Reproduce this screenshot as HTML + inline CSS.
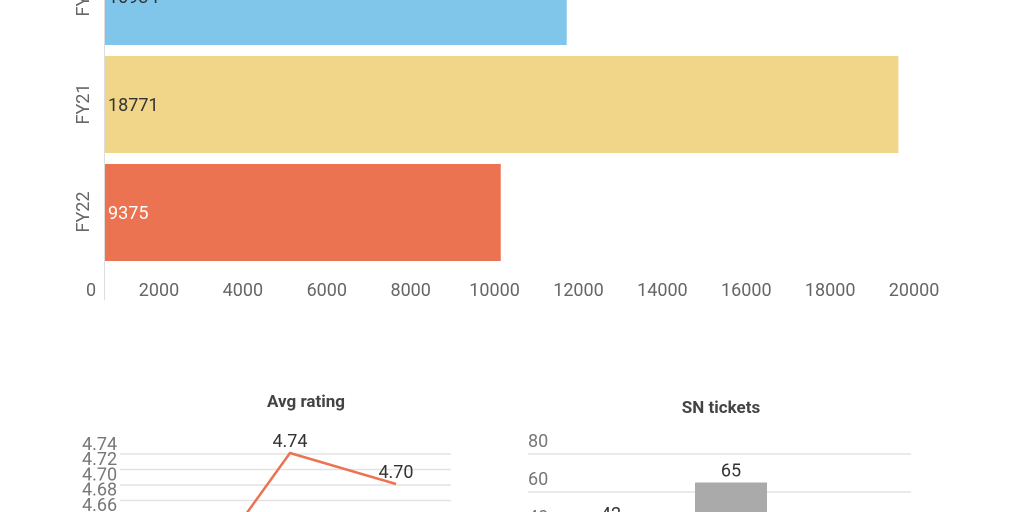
<!DOCTYPE html>
<html><head><meta charset="utf-8">
<style>
html,body{margin:0;padding:0;background:#fff;width:1024px;height:512px;overflow:hidden;}
svg{display:block;overflow:hidden;font-family:"Roboto","Liberation Sans",sans-serif;}
</style></head>
<body>
<svg id="svg" width="1024" height="512" viewBox="0 0 1024 512"></svg>
<script>
// Top bar chart data
const fyCats = ['FY20','FY21','FY22'];
const fyValues = [10934, 18771, 9375];
const fyColors = ['#7fc6ea','#f1d589','#eb7352'];
const fyTicks = [0,2000,4000,6000,8000,10000,12000,14000,16000,18000,20000];
// Avg rating line
const ratingCats = ['Q1','Q2','Q3'];
const ratingValues = [4.55, 4.74, 4.70];
const ratingTicks = ['4.74','4.72','4.70','4.68','4.66'];
const ratingGrid = [4.74,4.72,4.70,4.68];
// SN tickets bars
const snCats = ['A','B','C'];
const snValues = [42, 65, 30];
const snTicks = [80, 60, 40];

const svg = document.getElementById('svg');
const NS = 'http://www.w3.org/2000/svg';
function mk(tag, attrs, parent){
  const e = document.createElementNS(NS, tag);
  for (const k in attrs) e.setAttribute(k, attrs[k]);
  (parent||svg).appendChild(e); return e;
}

// ---- top bar chart
const xs = v => 104 + v * 0.04232;
const ys = i => -52 + i * 108;
const topG = mk('g', {});


fyCats.forEach((c, i) => {
  const r = mk('rect', {x:104, y:ys(i), width:xs(fyValues[i])-104, height:97, fill:fyColors[i]}, topG);
  
  
  const t = mk('text', {x:108, y:ys(i)+55, 'font-size':18, fill: i===2?'#fff':'#333'}, topG);
  t.textContent = fyValues[i];
  
  
  const cy = ys(i)+48;
  const l = mk('text', {x:89, y:cy, 'font-size':18, fill:'#666', 'text-anchor':'middle', transform:'rotate(-90 89 '+cy+')'}, topG);
  l.textContent = c;
  
  
});
const ax = mk('line', {x1:104.5, y1:0, x2:104.5, y2:300, stroke:'#ddd', 'stroke-width':1}, topG);


fyTicks.forEach((v, i) => {
  const x = i === 0 ? 91 : 159 + (i-1) * 83.9;
  const t = mk('text', {x:x, y:296, 'font-size':18, fill:'#666', 'text-anchor':'middle'}, topG);
  t.textContent = v;
  
  
});

// ---- avg rating
const rG = mk('g', {});


const ry = v => 453 + (4.74 - v) * 775;
const rx = i => 184 + i * 106;
const rt = mk('text', {x:306, y:407, 'font-size':17, 'font-weight':'bold', fill:'#444', 'text-anchor':'middle'}, rG);
rt.textContent = 'Avg rating';


ratingGrid.forEach(v => {
  const g = mk('line', {x1:120, x2:451, y1:ry(v)+1, y2:ry(v)+1, stroke:'#e3e3e3', 'stroke-width':1.5}, rG);
  
  
});
ratingTicks.forEach((v, i) => {
  const t = mk('text', {x:82, y:450 + i*15.2, 'font-size':18, fill:'#777'}, rG);
  t.textContent = v;
  
  
});
const pts = ratingValues.map((v,i) => rx(i) + ',' + ry(v)).join(' ');
const pl = mk('polyline', {points:pts, fill:'none', stroke:'#eb7352', 'stroke-width':2.5}, rG);


ratingValues.forEach((v, i) => {
  const t = mk('text', {x:rx(i), y:ry(v)-6, 'font-size':18, fill:'#333', 'text-anchor':'middle'}, rG);
  t.textContent = v.toFixed(2);
  
  
});

// ---- SN tickets
const sG = mk('g', {});


const sy = v => 454 + (80 - v) * 1.9;
const sx = i => 611 + i * 120;
const st = mk('text', {x:721, y:413, 'font-size':17, 'font-weight':'bold', fill:'#444', 'text-anchor':'middle'}, sG);
st.textContent = 'SN tickets';


snTicks.forEach(v => {
  const g = mk('line', {x1:528, x2:911, y1:sy(v), y2:sy(v), stroke:'#e3e3e3', 'stroke-width':1.5}, sG);
  
  
  const t = mk('text', {x:528, y:sy(v)-7, 'font-size':18, fill:'#777'}, sG);
  t.textContent = v;
  
  
});
snValues.forEach((v, i) => {
  const top = sy(v);
  const b = mk('rect', {x:sx(i)-36, y:top, width:72, height:Math.max(0, 512-top), fill:'#aaaaaa'}, sG);
  
  
  const t = mk('text', {x:sx(i), y:top-6, 'font-size':18, fill:'#333', 'text-anchor':'middle'}, sG);
  t.textContent = v;
  
  
});
</script>
</body></html>
